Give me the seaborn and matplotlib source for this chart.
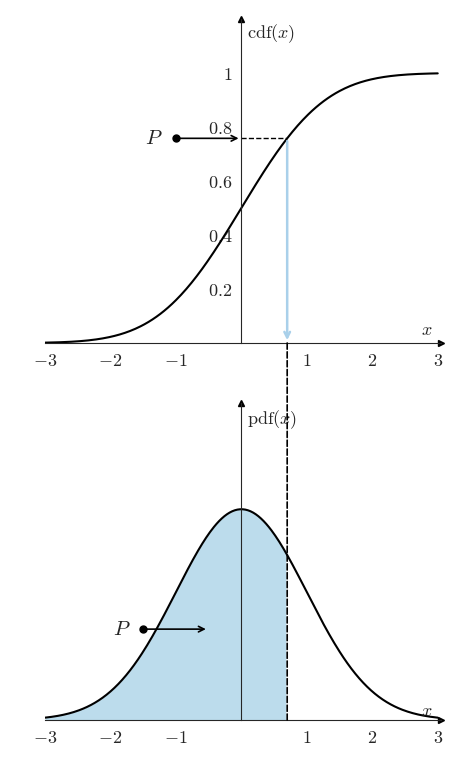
import math
import numpy as np
import pandas as pd
import matplotlib
matplotlib.use("Agg")
import matplotlib.pyplot as plt
import seaborn as sns
from matplotlib.patches import ConnectionPatch

sns.set_style("white")
plt.rcParams["mathtext.fontset"] = "cm"
plt.rcParams["font.family"] = ["DejaVu Serif"]

mu, sigma = 0.0, 1.0
x_quant = 0.7
x_ticks = [-3, -2, -1, 1, 2, 3]
cdf_ticks = [0.2, 0.4, 0.6, 0.8, 1.0]
cdf_tick_labels = ["0.2", "0.4", "0.6", "0.8", "1"]

xs = np.linspace(-3, 3, 301)
cdf = [0.5 * (1 + math.erf((v - mu) / (sigma * math.sqrt(2)))) for v in xs]
pdf = [math.exp(-0.5 * ((v - mu) / sigma) ** 2) / (sigma * math.sqrt(2 * math.pi)) for v in xs]
df = pd.DataFrame({"x": xs, "cdf": cdf, "pdf": pdf})
p_q = 0.5 * (1 + math.erf((x_quant - mu) / (sigma * math.sqrt(2))))

fig = plt.figure(figsize=(4.74, 7.8), dpi=100)
W = 474; H = 780
ax1 = fig.add_axes([45 / W, (780 - 343) / H, 396 / W, 324 / H])
ax2 = fig.add_axes([45 / W, 60 / H, 396 / W, 317 / H])

def style(ax, ytop):
    ax.set_xlim(-3, 3.05)
    ax.set_ylim(0, ytop)
    for s in ["top", "right"]:
        ax.spines[s].set_visible(False)
    ax.spines["left"].set_position(("data", 0))
    ax.spines["bottom"].set_position(("data", 0))
    for s in ["left", "bottom"]:
        ax.spines[s].set_linewidth(0.8)
    ax.plot(1, 0, ">k", ms=4, transform=ax.get_yaxis_transform(), clip_on=False)
    ax.plot(0, 1, "^k", ms=4, transform=ax.get_xaxis_transform(), clip_on=False)
    ax.set_xticks(x_ticks)
    ax.set_xticklabels([f"${t}$".replace("-", "-") for t in x_ticks], fontsize=13)
    ax.tick_params(axis="both", direction="inout", length=5, width=0.8, pad=4)
    ax.set_xlabel(""); ax.set_ylabel("")

sns.lineplot(data=df, x="x", y="cdf", ax=ax1, color="black", lw=1.5)
style(ax1, 1.2)
ax1.set_yticks(cdf_ticks)
ax1.set_yticklabels([f"${t}$" for t in cdf_tick_labels], fontsize=13)
ax1.text(0.08, 1.13, r"$\mathrm{cdf}(x)$", fontsize=13)
ax1.text(2.75, 0.03, r"$x$", fontsize=13)
ax1.plot([0, x_quant], [p_q, p_q], "k--", lw=1)
ax1.annotate("", xy=(x_quant, 0), xytext=(x_quant, p_q),
             arrowprops=dict(arrowstyle="->", color="#a9d0ea", lw=1.8))
ax1.annotate("", xy=(0, p_q), xytext=(-1, p_q),
             arrowprops=dict(arrowstyle="->", color="black", lw=1.2))
ax1.plot(-1, p_q, "ko", ms=5)
ax1.text(-1.33, p_q, r"$P$", fontsize=15, ha="center", va="center")

sns.lineplot(data=df, x="x", y="pdf", ax=ax2, color="black", lw=1.5)
mask = df["x"] <= x_quant
ax2.fill_between(df["x"][mask], df["pdf"][mask], color="#bcdcec", lw=0)
style(ax2, 0.6)
ax2.set_yticks([])
ax2.text(0.08, 0.56, r"$\mathrm{pdf}(x)$", fontsize=13)
ax2.text(2.75, 0.008, r"$x$", fontsize=13)
ax2.annotate("", xy=(-0.5, 0.172), xytext=(-1.5, 0.172),
             arrowprops=dict(arrowstyle="->", color="black", lw=1.2))
ax2.plot(-1.5, 0.172, "ko", ms=5)
ax2.text(-1.83, 0.172, r"$P$", fontsize=15, ha="center", va="center")

con = ConnectionPatch(xyA=(x_quant, 0), coordsA=ax1.transData,
                      xyB=(x_quant, 0), coordsB=ax2.transData,
                      linestyle="--", color="black", lw=1.2)
fig.add_artist(con)

fig.savefig("out.png", dpi=100)
